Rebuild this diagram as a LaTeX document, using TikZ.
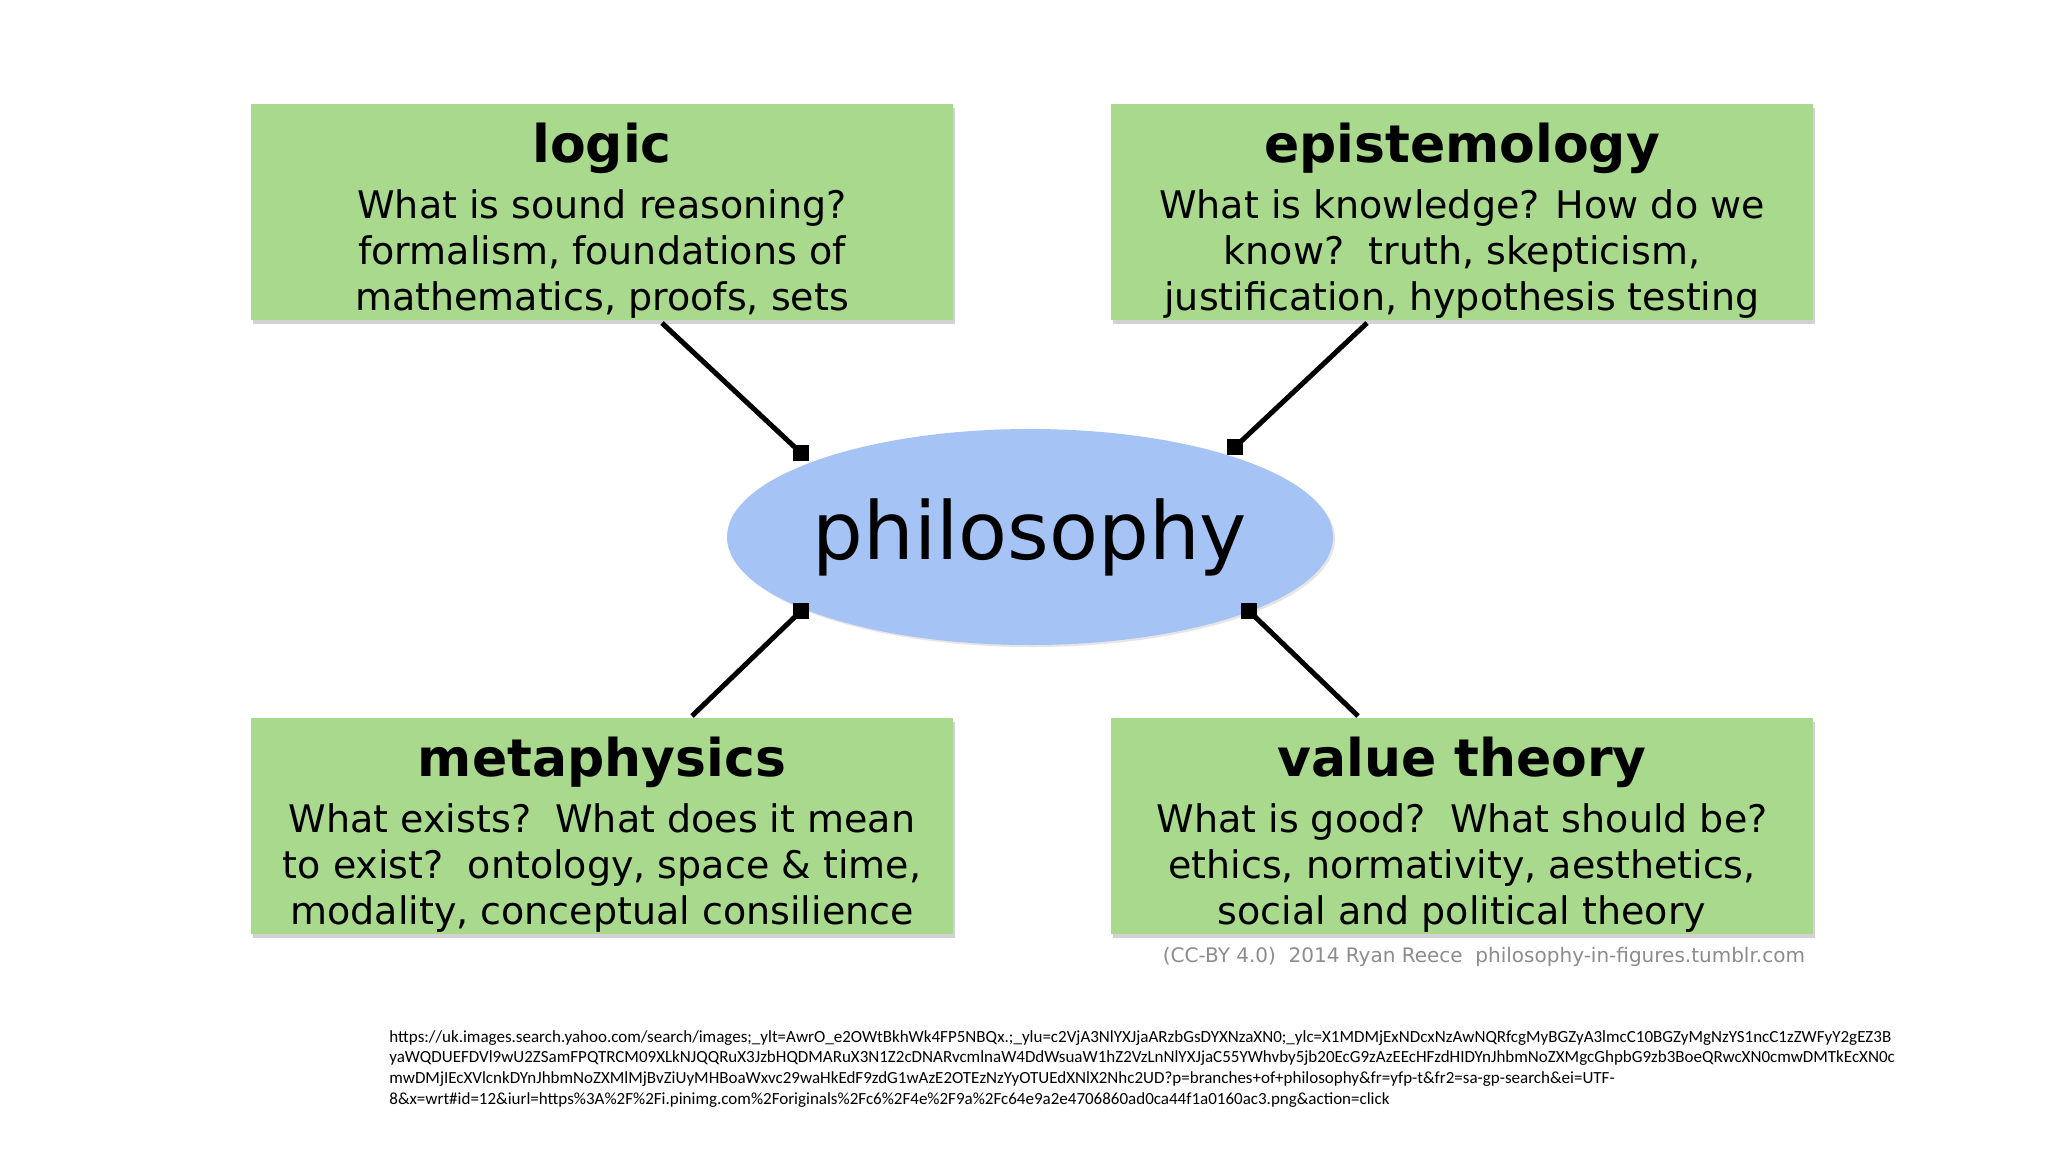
\documentclass[tikz,border=0pt]{standalone}
\usepackage{fontspec}
\setmainfont{DejaVu Sans}
\newfontfamily\urlfont{Carlito}
\usetikzlibrary{shadows,shapes.geometric}
\definecolor{boxgreen}{HTML}{A9D98C}
\definecolor{ellblue}{HTML}{A6C3F5}
\begin{document}
\begin{tikzpicture}[x=0.5pt,y=-0.5pt,
  branch/.style={fill=boxgreen,draw=none,minimum width=351pt,minimum height=108pt,inner sep=0pt,
    drop shadow={shadow xshift=1pt,shadow yshift=-2pt,fill=black!35}},
  ttl/.style={font=\bfseries\fontsize{26}{28}\selectfont},
  body/.style={font=\fontsize{19}{23}\selectfont,align=center},
  link/.style={line width=2.5pt,black},
  knob/.style={fill=black,minimum size=8pt,inner sep=0pt}]
\useasboundingbox[fill=white] (0,0) rectangle (2048,1152);
\node[branch] (logic) at (602,212) {};
\node[branch] (epis) at (1462,212) {};
\node[branch] (meta) at (602,826) {};
\node[branch] (value) at (1462,826) {};
\node[ellipse,fill=ellblue,minimum width=303pt,minimum height=108pt,inner sep=0pt,
  drop shadow={shadow xshift=1pt,shadow yshift=-1pt,fill=black!20}] (phil) at (1030,537) {};
\node[font=\fontsize{40}{42}\selectfont] (philtext) at (phil.center) {philosophy};
\node[knob] (k1) at (801,453) {};
\node[knob] (k2) at (1235,447) {};
\node[knob] (k3) at (801,611) {};
\node[knob] (k4) at (1249,611) {};
\coordinate (c1) at (662,323); \coordinate (c2) at (1367,323);
\coordinate (c3) at (692,716); \coordinate (c4) at (1358,716);
\draw[link] (c1) -- (k1.center); \draw[link] (c2) -- (k2.center);
\draw[link] (c3) -- (k3.center); \draw[link] (c4) -- (k4.center);
\node[ttl] (t1) at (602,148) {logic};
\node[body,anchor=north] (b1) at (602,183) {What is sound reasoning?\\formalism, foundations of\\mathematics, proofs, sets};
\node[ttl] (t2) at (1462,148) {epistemology};
\node[body,anchor=north] (b2) at (1462,183) {What is knowledge? How do we\\know?\ \ truth, skepticism,\\justification, hypothesis testing};
\node[ttl] (t3) at (602,762) {metaphysics};
\node[body,anchor=north] (b3) at (602,797) {What exists?\ \ What does it mean\\to exist?\ \ ontology, space \& time,\\modality, conceptual consilience};
\node[ttl] (t4) at (1462,762) {value theory};
\node[body,anchor=north] (b4) at (1462,797) {What is good?\ \ What should be?\\ethics, normativity, aesthetics,\\social and political theory};
\node[anchor=east,text=black!45,font=\fontsize{10}{12}\selectfont] (cr) at (1812,957) {(CC-BY 4.0)\ \ 2014 Ryan Reece\ \ philosophy-in-figures.tumblr.com};
\node[anchor=north west,align=left,inner sep=0pt,font=\urlfont\fontsize{8.5}{10.3}\selectfont] (url) at (389,1030) {https://uk.images.search.yahoo.com/search/images;\_ylt=AwrO\_e2OWtBkhWk4FP5NBQx.;\_ylu=c2VjA3NlYXJjaARzbGsDYXNzaXN0;\_ylc=X1MDMjExNDcxNzAwNQRfcgMyBGZyA3lmcC10BGZyMgNzYS1ncC1zZWFyY2gEZ3B\\yaWQDUEFDVl9wU2ZSamFPQTRCM09XLkNJQQRuX3JzbHQDMARuX3N1Z2cDNARvcmlnaW4DdWsuaW1hZ2VzLnNlYXJjaC55YWhvby5jb20EcG9zAzEEcHFzdHIDYnJhbmNoZXMgcGhpbG9zb3BoeQRwcXN0cmwDMTkEcXN0c\\mwDMjIEcXVlcnkDYnJhbmNoZXMlMjBvZiUyMHBoaWxvc29waHkEdF9zdG1wAzE2OTEzNzYyOTUEdXNlX2Nhc2UD?p=branches+of+philosophy\&fr=yfp-t\&fr2=sa-gp-search\&ei=UTF-\\8\&x=wrt\#id=12\&iurl=https\%3A\%2F\%2Fi.pinimg.com\%2Foriginals\%2Fc6\%2F4e\%2F9a\%2Fc64e9a2e4706860ad0ca44f1a0160ac3.png\&action=click};
\end{tikzpicture}
\end{document}
